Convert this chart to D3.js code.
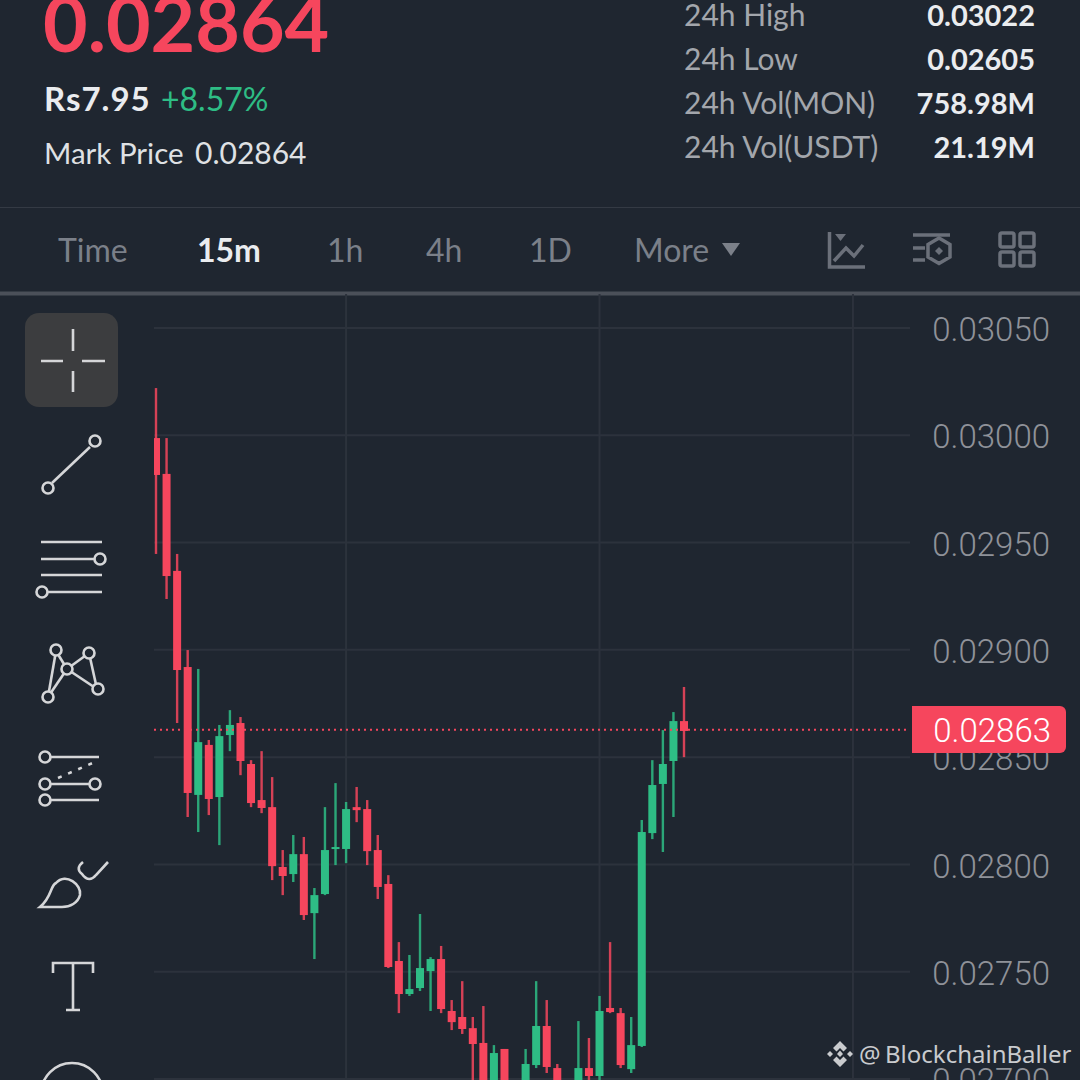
<!DOCTYPE html>
<html><head><meta charset="utf-8">
<script src="https://cdn.jsdelivr.net/npm/d3@7/dist/d3.min.js"></script>
<style>html,body{margin:0;padding:0;background:#1f2630;overflow:hidden}svg{display:block}</style>
</head><body><svg id="c" width="1080" height="1080"></svg>
<script>
// price data (one value per 15m candle)
const highs=[.030220,.029987,.029447,.028999,.028911,.028580,.028650,.028719,.028687,.028486,.028528,.028407,.028067,.028137,.028128,.027890,.028267,.028379,.028291,.028361,.028300,.028137,.027950,.027638,.027578,.027769,.027568,.027620,.027368,.027456,.027289,.027340,.027158,.027140,.026972,.027140,.027456,.027368,.027070,.026949,.027270,.027191,.027387,.027638,.027331,.027289,.028207,.028486,.028626,.028710,.028827];
const opens=[.029987,.029820,.029368,.028920,.028324,.028557,.028314,.028603,.028659,.028468,.028300,.028267,.027988,.027955,.028048,.027773,.027862,.028072,.028072,.028267,.028258,.028067,.027909,.027550,.027396,.027424,.027503,.027559,.027317,.027289,.027237,.027168,.026925,.027140,.026949,.026902,.027065,.027247,.027051,.026879,.026902,.027051,.027014,.027331,.027307,.027046,.027154,.028146,.028375,.028482,.028668];
const closes=[.029815,.029344,.028906,.028333,.028570,.028305,.028598,.028650,.028482,.028286,.028263,.027992,.027946,.028048,.027764,.027857,.028067,.028081,.028258,.028253,.028062,.027895,.027522,.027396,.027419,.027517,.027559,.027326,.027265,.027233,.027163,.026972,.027121,.026902,.026879,.027070,.027247,.027056,.026902,.026925,.027051,.027014,.027317,.027312,.027065,.027158,.028151,.028370,.028468,.028668,.028622];
const lows=[.029447,.029237,.028659,.028221,.028151,.028230,.028090,.028528,.028416,.028267,.028239,.027927,.027857,.027918,.027741,.027559,.027857,.027997,.028006,.028197,.027997,.027839,.027517,.027307,.027387,.027410,.027317,.027307,.027228,.027210,.026949,.026925,.026879,.026855,.026832,.026855,.027051,.027028,.026855,.026832,.026855,.026925,.026949,.027307,.027051,.027028,.027149,.028118,.028058,.028221,.028500];
const priceTicks=[.0305,.03,.0295,.029,.0285,.028,.0275,.027];
const timeGridIndex=[18,42,66];
const lastPrice=.02863;
const statLabels=["24h High","24h Low","24h Vol(MON)","24h Vol(USDT)"];
const statValues=["0.03022","0.02605","758.98M","21.19M"];
const tabLabels=["Time","15m","1h","4h","1D","More"];

const RED="#f6465d",GREEN="#2ebd85",GRID="#2c323c",AXIS="#8f9299";
const FONT="Lato,sans-serif";
const svg=d3.select("#c");
svg.append("defs").append("clipPath").attr("id","plot").append("rect").attr("x",154).attr("y",294).attr("width",756).attr("height",786);

const x=d3.scaleLinear().domain([0,50]).range([156,684]);
const y=d3.scaleLinear().domain([.027,.0305]).range([1079,328]);

function txt(t,px,py,size,fill,weight,anchor,family){
  return svg.append("text").attr("x",px).attr("y",py).attr("font-size",size).attr("fill",fill)
    .attr("font-weight",weight||400).attr("text-anchor",anchor||"start").attr("font-family",family||FONT).text(t);
}
// header
txt("0.02864",43,52,77,RED,700);
txt("Rs7.95",44,111,33,"#eaecef",700).attr("letter-spacing",1);
txt("+8.57%",161,111,32,GREEN,400);
txt("Mark Price",44,164,29.5,"#dfe1e4",400);
txt("0.02864",195,164,30,"#dfe1e4",400);
const statY=[26,70,114,158];
statLabels.forEach((s,i)=>{
  txt(s,684,statY[i],30,"#a3a6ac",400);
  txt(statValues[i],1035,statY[i],29,"#eaecef",700,"end");
});
svg.append("line").attr("x1",0).attr("x2",1080).attr("y1",207.5).attr("y2",207.5).attr("stroke","#343a44");
// tabs
const tabX=[58,197,327,426,529,634];
tabLabels.forEach((s,i)=>txt(s,tabX[i],262,32,i==1?"#eaecef":"#7b8089",i==1?700:400));
svg.append("path").attr("d","M722 243H740L731 256Z").attr("fill","#7b8089");
svg.append("rect").attr("x",0).attr("y",291.5).attr("width",1080).attr("height",4).attr("fill","#4b5059");

// top-right icons
const ic=svg.append("g").attr("fill","none").attr("stroke","#6b707a").attr("stroke-width",3.5);
ic.append("path").attr("d","M829.5 232V267H865");
ic.append("path").attr("d","M835 234H846L840.5 241Z").attr("fill","#6b707a").attr("stroke","none");
ic.append("path").attr("d","M834 261L846 248L854 256L863 245");
ic.append("path").attr("d","M913 235H950M913 248H925M913 260H925");
ic.append("path").attr("d","M939 238L950 244.500V257L939 263.500L928 257V244.500Z");
ic.append("path").attr("d","M939 247L943 251L939 255L935 251Z").attr("fill","#6b707a").attr("stroke","none");
[[1000,233],[1020,233],[1000,252],[1020,252]].forEach(p=>ic.append("rect").attr("x",p[0]).attr("y",p[1]).attr("width",14).attr("height",14).attr("rx",2));

// grid
const plot=svg.append("g");
plot.append("g").selectAll("line").data(priceTicks).join("line")
  .attr("x1",154).attr("x2",910).attr("y1",d=>y(d)).attr("y2",d=>y(d)).attr("stroke",GRID).attr("stroke-width",2);
plot.append("g").selectAll("line").data(timeGridIndex).join("line")
  .attr("x1",d=>x(d)).attr("x2",d=>x(d)).attr("y1",294).attr("y2",1080).attr("stroke",GRID).attr("stroke-width",2);

// candles
const idx=d3.range(highs.length);
const g=plot.append("g").attr("clip-path","url(#plot)");
const col=i=>closes[i]>=opens[i]?GREEN:RED;
g.selectAll(".w").data(idx).join("rect").attr("class","w").attr("x",i=>x(i)-1.2).attr("width",2.4)
  .attr("y",i=>y(highs[i])).attr("height",i=>y(lows[i])-y(highs[i])).attr("fill",col).attr("opacity",.85);
g.selectAll(".b").data(idx).join("rect").attr("class","b").attr("x",i=>x(i)-4).attr("width",8)
  .attr("y",i=>y(Math.max(opens[i],closes[i]))).attr("height",i=>Math.max(2,Math.abs(y(opens[i])-y(closes[i])))).attr("fill",col);

// last price line
plot.append("line").attr("x1",154).attr("x2",910).attr("y1",y(lastPrice)+0.5).attr("y2",y(lastPrice)+0.5)
  .attr("stroke",RED).attr("stroke-width",2).attr("stroke-dasharray","2 4");

// axis
const ax=svg.append("g").attr("transform","translate(1050,0.7)")
  .call(d3.axisRight(y).tickValues(priceTicks).tickFormat(d3.format(".5f")).tickSize(0).tickPadding(0));
ax.select(".domain").remove();
ax.selectAll("text").attr("font-family","Roboto,sans-serif").attr("font-weight",300).attr("font-size",33).attr("fill",AXIS).attr("text-anchor","end").attr("dy","0.36em");
svg.append("path").attr("d","M912 706H1060A6 6 0 0 1 1066 712V747A6 6 0 0 1 1060 753H912Z").attr("fill",RED);
svg.append("text").attr("x",1051).attr("y",y(lastPrice)+13).attr("text-anchor","end").attr("font-family","Roboto,sans-serif").attr("font-weight",300).attr("font-size",33).attr("fill","#fff").text(d3.format(".5f")(lastPrice));

// tool bar
svg.append("rect").attr("x",25).attr("y",313).attr("width",93).attr("height",94).attr("rx",14).attr("fill","#3c3d3f");
const t=svg.append("g").attr("fill","none").attr("stroke","#d5d6d8").attr("stroke-width",2.6);
t.append("path").attr("d","M73 329V351M73 371V392M41 361H63M82 361H105");
function seg(a,b,c,d){t.append("line").attr("x1",a).attr("y1",b).attr("x2",c).attr("y2",d);}
function dot(a,b,r){t.append("circle").attr("cx",a).attr("cy",b).attr("r",r||5.500).attr("fill","#1f2630");}
seg(52,483,90,447);dot(48,488);dot(95,441);
seg(41,542,102,542);seg(41,559,95,559);seg(41,575,102,575);seg(48,592,102,592);dot(100,559);dot(42,592);
seg(56,651,48,697);seg(56,651,67,669);seg(67,669,48,697);seg(67,669,89,653);seg(89,653,97,689);seg(67,669,97,689);
dot(56,650);dot(89,653);dot(67,669);dot(98,689);dot(48,697);
seg(50,757,99,757);seg(50,784,90,784);seg(50,800,99,800);dot(45,757);dot(45,784);dot(95,784);dot(45,800);
t.append("line").attr("x1",58).attr("y1",778).attr("x2",95).attr("y2",762).attr("stroke-dasharray","4 7");
t.append("path").attr("d","M40 907C52 897 50 886 56 883C66 872 82 885 80 895C78 903 70 907 62 907Z");
t.append("path").attr("d","M83 862C78 866 77 870 82 874C87 881 92 880 96 875L108 862");
t.append("path").attr("d","M53 973V963H93V973M73 963V1010M66 1010H80");
t.append("circle").attr("cx",72).attr("cy",1094).attr("r",31);

// watermark
const wm=svg.append("g").attr("fill","#c9cbce");
wm.append("path").attr("d","M840 1041L847 1048L843.500 1051.500L840 1048L836.500 1051.500L833 1048Z");
wm.append("path").attr("d","M840 1067L847 1060L843.500 1056.500L840 1060L836.500 1056.500L833 1060Z");
wm.append("path").attr("d","M840 1050.500L843 1054L840 1057L837 1054Z");
wm.append("path").attr("d","M830 1051L833 1054L830 1057L827 1054Z");
wm.append("path").attr("d","M850 1051L853 1054L850 1057L847 1054Z");
txt("@",859,1063,24,"#c9cbce",400,"start","'Noto Sans',sans-serif");
txt("BlockchainBaller",885,1063,24,"#c9cbce",400,"start","'Noto Sans',sans-serif");
</script></body></html>
